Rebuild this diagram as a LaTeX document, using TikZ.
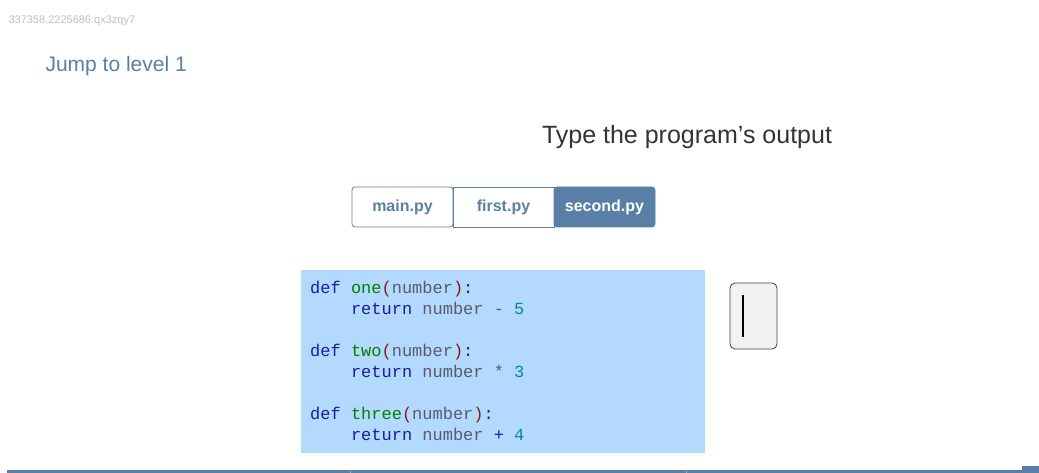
\documentclass[tikz,border=0pt]{standalone}
\usepackage{fontspec}
\setmainfont{Liberation Sans}
\newfontfamily\codefont{Liberation Mono}
\definecolor{zblue}{HTML}{5A7FA6}
\definecolor{codebg}{HTML}{B3D9FF}
\definecolor{kw}{HTML}{1A1AA6}
\definecolor{fn}{HTML}{008000}
\definecolor{par}{HTML}{8B1A1A}
\definecolor{var}{HTML}{5A5A6E}
\definecolor{num}{HTML}{098690}
\tikzset{x=1pt,y=-1pt,
 tab/.style={draw=zblue,line width=0.8pt,minimum width=101pt,minimum height=40pt,font=\bfseries\fontsize{16}{16}\selectfont,text=zblue,inner sep=0pt},
 code/.style={anchor=base west,inner sep=0pt,font=\codefont\fontsize{17}{17}\selectfont}}
\newcommand{\K}[1]{\textcolor{kw}{#1}}
\newcommand{\F}[1]{\textcolor{fn}{#1}}
\newcommand{\Pa}[1]{\textcolor{par}{#1}}
\newcommand{\V}[1]{\textcolor{var}{#1}}
\newcommand{\N}[1]{\textcolor{num}{#1}}
\begin{document}
\begin{tikzpicture}
\useasboundingbox (0,0) rectangle (1039,473);
\node[anchor=west,text=black!25,font=\fontsize{11}{11}\selectfont] (id) at (5,21) {337358.2225686.qx3zqy7};
\node[anchor=west,text=zblue,font=\fontsize{21}{21}\selectfont] (jump) at (42,66) {Jump to level 1};
\node[text=black!80,font=\fontsize{25}{25}\selectfont] (title) at (687,137) {Type the program's output};
\node[tab,rounded corners=3pt] (t1) at (402.5,207) {main.py};
\node[tab] (t2) at (503.5,207) {first.py};
\node[tab,fill=zblue,text=white,rounded corners=3pt] (t3) at (604.5,207) {second.py};
\fill[codebg] (301,270) rectangle (705,453);
\node[code] (l1) at (310,293) {\K{def} \F{one}\Pa{(}\V{number}\Pa{)}\K{:}};
\node[code] (l2) at (310,314) {\phantom{def }\K{return} \V{number} \V{-} \N{5}};
\node[code] (l3) at (310,356) {\K{def} \F{two}\Pa{(}\V{number}\Pa{)}\K{:}};
\node[code] (l4) at (310,377) {\phantom{def }\K{return} \V{number} \V{*} \N{3}};
\node[code] (l5) at (310,419) {\K{def} \F{three}\Pa{(}\V{number}\Pa{)}\K{:}};
\node[code] (l6) at (310,440) {\phantom{def }\K{return} \V{number} \K{+} \N{4}};
\draw[fill=black!5,draw=black!75,rounded corners=5pt,line width=0.8pt] (730,283) rectangle (777,349);
\draw[line width=1.4pt] (743,295) -- (743,337);
\fill[zblue] (7,470) rectangle (1032,473);
\fill[zblue] (1022,466) rectangle (1039,473);
\draw[black!30,line width=0.5pt] (350,470.5) -- (350,473) (686,470.5) -- (686,473);
\end{tikzpicture}
\end{document}
